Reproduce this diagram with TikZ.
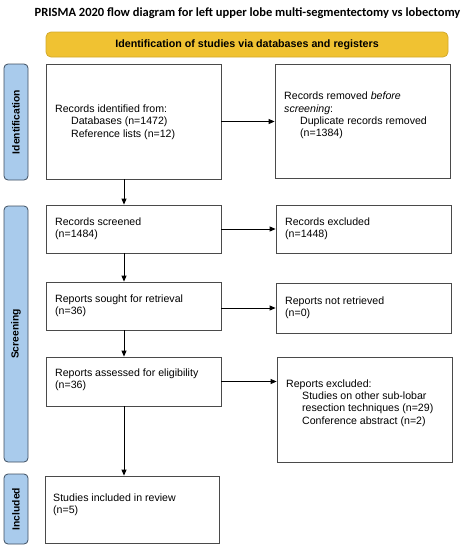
\documentclass[tikz,border=0pt]{standalone}
\usepackage{fontspec}
\setmainfont{Liberation Sans}
\newfontfamily\titlefont{Carlito}
\usetikzlibrary{arrows.meta}
\definecolor{bannerfill}{HTML}{F0C232}
\definecolor{bannerdraw}{HTML}{D2A92C}
\definecolor{sidefill}{HTML}{A9CBEC}
\definecolor{sidedraw}{HTML}{3E4E60}
\definecolor{boxdraw}{HTML}{4A4A4A}
\tikzset{
  box/.style={draw=boxdraw, line width=0.8pt, rectangle, inner sep=0pt},
  txt/.style={anchor=west, align=left, inner sep=0pt, font=\fontsize{10.6}{12.3}\selectfont},
  side/.style={draw=sidedraw, fill=sidefill, line width=0.8pt, rounded corners=4pt, rotate=90, minimum height=24pt, inner sep=0pt, font=\bfseries\fontsize{10.3}{12}\selectfont},
  arr/.style={draw=black, line width=0.8pt, -{Triangle[length=6pt,width=5pt]}},
}
\begin{document}
\begin{tikzpicture}[x=1pt,y=-1pt]
\useasboundingbox (0,0) rectangle (474,549);
% title
\node[inner sep=0pt, font=\titlefont\bfseries\fontsize{12.5}{15}\selectfont] (title) at (247.5,13) {PRISMA 2020 flow diagram for left upper lobe multi-segmentectomy vs lobectomy};
% banner
\node[draw=bannerdraw, fill=bannerfill, line width=0.8pt, rounded corners=5pt, minimum width=402pt, minimum height=25pt, inner sep=0pt, font=\bfseries\fontsize{10.7}{12}\selectfont] (banner) at (247,44.5) {Identification of studies via databases and registers};
% side labels
\node[side, minimum width=116pt] (sid) at (16,122) {Identification};
\node[side, minimum width=256pt] (sscr) at (16,334) {Screening};
\node[side, minimum width=70pt] (sinc) at (16,509) {Included};
% boxes
\node[box, minimum width=175pt, minimum height=115pt] (b1) at (133.5,121.5) {};
\node[box, minimum width=175pt, minimum height=114pt] (b2) at (362.5,121) {};
\node[box, minimum width=175pt, minimum height=48pt] (b3) at (133.5,229) {};
\node[box, minimum width=175pt, minimum height=48pt] (b4) at (363.5,229) {};
\node[box, minimum width=175pt, minimum height=48pt] (b5) at (133.5,306) {};
\node[box, minimum width=175pt, minimum height=50pt] (b6) at (363.5,308) {};
\node[box, minimum width=175pt, minimum height=49pt] (b7) at (133.5,381.5) {};
\node[box, minimum width=175pt, minimum height=105pt] (b8) at (364.5,409.5) {};
\node[box, minimum width=174pt, minimum height=67pt] (b9) at (132,509.5) {};
% texts
\node[txt] (t1) at (55,122) {Records identified from:\\\hspace{16pt}Databases (n=1472)\\\hspace{16pt}Reference lists (n=12)};
\node[txt] (t2) at (284,115.5) {Records removed \textit{before}\\\textit{screening}:\\\hspace{16pt}Duplicate records removed\\\hspace{16pt}(n=1384)};
\node[txt] (t3) at (55,229) {Records screened\\(n=1484)};
\node[txt] (t4) at (285,229) {Records excluded\\(n=1448)};
\node[txt] (t5) at (55,306) {Reports sought for retrieval\\(n=36)};
\node[txt] (t6) at (285,308) {Reports not retrieved\\(n=0)};
\node[txt] (t7) at (55,380) {Reports assessed for eligibility\\(n=36)};
\node[txt] (t8) at (286,403) {Reports excluded:\\\hspace{16pt}Studies on other sub-lobar\\\hspace{16pt}resection techniques (n=29)\\\hspace{16pt}Conference abstract (n=2)};
\node[txt] (t9) at (53,504.5) {Studies included in review\\(n=5)};
% connectors
\coordinate (spine) at (124,0);
\draw[arr] (spine |- b1.south) -- (spine |- b3.north);
\draw[arr] (spine |- b3.south) -- (spine |- b5.north);
\draw[arr] (spine |- b5.south) -- (spine |- b7.north);
\draw[arr] (spine |- b7.south) -- (spine |- b9.north);
\draw[arr] (b1.east) -- (b1.east -| b2.west);
\draw[arr] (b3.east) -- (b3.east -| b4.west);
\draw[arr] (b5.east |- b6.west) -- (b6.west);
\draw[arr] (b7.east) -- (b7.east -| b8.west);
\end{tikzpicture}
\end{document}
